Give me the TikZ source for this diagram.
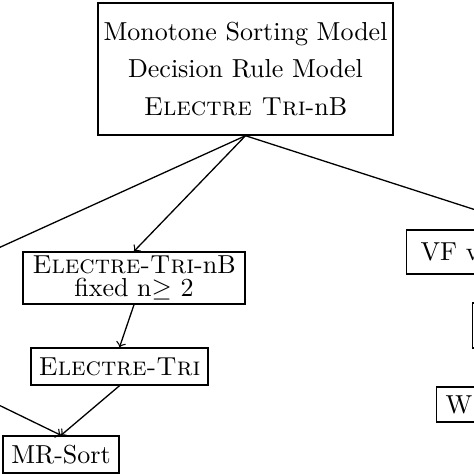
\documentclass[tikz,border=0pt]{standalone}
\def\pxu{0.3846pt}
\begin{document}
\begin{tikzpicture}[x=\pxu,y=-\pxu,
  box/.style={draw, line width=0.55pt, inner sep=0pt, align=center,
    font=\fontsize{10}{8.6}\selectfont},
  conn/.style={->, line width=0.5pt}]
\useasboundingbox (0,0) rectangle (474,474);
\clip (0,0) rectangle (474,474);
\node[box, minimum width=295*\pxu, minimum height=132*\pxu,
  font=\fontsize{10}{14.3}\selectfont] (top) at (245.5,69)
  {Monotone Sorting Model\\Decision Rule Model\\\textsc{Electre Tri}-nB};
\node[box, minimum width=222*\pxu, minimum height=52*\pxu] (etnb) at (134,278)
  {\textsc{Electre-Tri}-nB\\fixed n$\geq$ 2};
\node[box, minimum width=177*\pxu, minimum height=37*\pxu] (et) at (119.5,366.5)
  {\textsc{Electre-Tri}};
\node[box, minimum width=116*\pxu, minimum height=37*\pxu] (mr) at (61,454.5)
  {MR-Sort};
\node[box, anchor=west, minimum height=44*\pxu, text width=230*\pxu,
  inner xsep=14*\pxu, align=left] (vf) at (406,252) {VF v};
\node[box, anchor=west, minimum width=100*\pxu, minimum height=45*\pxu] (hid)
  at (472,325.5) {};
\node[box, anchor=west, minimum height=35*\pxu, text width=150*\pxu,
  inner xsep=9*\pxu, align=left] (w) at (436,404.5) {W};
\coordinate (offl1) at (-100,292.7);
\coordinate (offl2) at (-100,357);
\draw[conn] (top.south) -- (offl1);
\draw[conn] (top.south) -- (etnb.north);
\draw[conn] (top.south) -- (vf.north);
\draw[conn] (etnb.south) -- (et.north);
\draw[conn] (et.south) -- (mr.north);
\draw[conn] (offl2) -- (mr.north);
\end{tikzpicture}
\end{document}
